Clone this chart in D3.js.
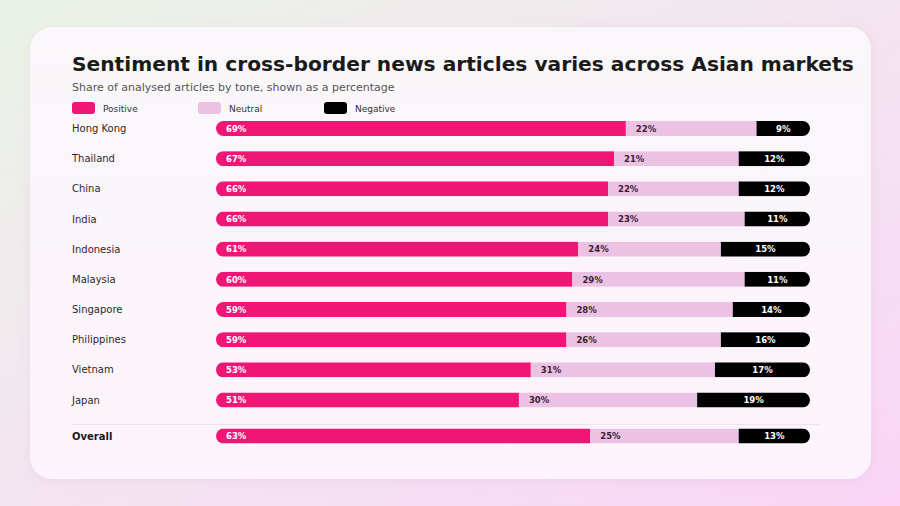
<!DOCTYPE html>
<html>
<head>
<meta charset="utf-8">
<style>
  html, body { margin: 0; padding: 0; }
  body { width: 900px; height: 506px; overflow: hidden; font-family: "DejaVu Sans", sans-serif; }
</style>
</head>
<body>
<svg width="900" height="506"></svg>
<script src="https://d3js.org/d3.v7.min.js"></script>
<script>
  const markets = ["Hong Kong", "Thailand", "China", "India", "Indonesia", "Malaysia",
    "Singapore", "Philippines", "Vietnam", "Japan", "Overall"];
  const positive = [69, 67, 66, 66, 61, 60, 59, 59, 53, 51, 63];
  const neutral = [22, 21, 22, 23, 24, 29, 28, 26, 31, 30, 25];
  const negative = [9, 12, 12, 11, 15, 11, 14, 16, 17, 19, 13];
  const tones = ["Positive", "Neutral", "Negative"];
  const toneColors = ["#ef1675", "#ebc2e3", "#000000"];

  const svg = d3.select("svg");
  const defs = svg.append("defs");

  // page background
  const bg = defs.append("linearGradient").attr("id", "bg")
    .attr("x1", "0").attr("y1", "0").attr("x2", "1").attr("y2", "1");
  bg.append("stop").attr("offset", "0%").attr("stop-color", "#eaf3e8");
  bg.append("stop").attr("offset", "50%").attr("stop-color", "#f3e5f0");
  bg.append("stop").attr("offset", "100%").attr("stop-color", "#fad4f7");
  svg.append("rect").attr("width", 900).attr("height", 506).attr("fill", "url(#bg)");

  const shadow = defs.append("filter").attr("id", "shadow")
    .attr("x", "-10%").attr("y", "-10%").attr("width", "120%").attr("height", "120%");
  shadow.append("feDropShadow").attr("dx", 0).attr("dy", 2).attr("stdDeviation", 6)
    .attr("flood-color", "#b080a0").attr("flood-opacity", 0.12);

  const cardG = defs.append("linearGradient").attr("id", "card")
    .attr("x1", "0").attr("y1", "0").attr("x2", "0").attr("y2", "1");
  cardG.append("stop").attr("offset", "0%").attr("stop-color", "#f9f7f9");
  cardG.append("stop").attr("offset", "100%").attr("stop-color", "#fdf3fc");

  svg.append("rect")
    .attr("x", 30).attr("y", 27).attr("width", 841).attr("height", 452)
    .attr("rx", 22).attr("fill", "url(#card)").attr("filter", "url(#shadow)");

  // titles
  svg.append("text").attr("x", 72).attr("y", 71)
    .attr("font-size", 20.2).attr("font-weight", "bold").attr("fill", "#1a1a1a")
    .text("Sentiment in cross-border news articles varies across Asian markets");
  svg.append("text").attr("x", 72).attr("y", 91)
    .attr("font-size", 11).attr("fill", "#555")
    .text("Share of analysed articles by tone, shown as a percentage");

  // legend
  const legend = svg.append("g").selectAll("g").data(tones).join("g")
    .attr("transform", (d, i) => `translate(${72 + i * 126},102)`);
  legend.append("rect").attr("width", 23).attr("height", 12).attr("rx", 3)
    .attr("fill", (d, i) => toneColors[i]);
  legend.append("text").attr("x", 31).attr("y", 9.5)
    .attr("font-size", 9).attr("fill", "#333").text((d) => d);

  // scales
  const x = d3.scaleLinear().domain([0, 100]).range([216, 810]);
  const rowY = d3.scalePoint().domain(markets.slice(0, 10)).range([128.5, 400]);
  const yOf = (m) => (m === "Overall" ? 436 : rowY(m));
  const barH = 15;

  const rows = markets.map((m, i) => ({
    market: m,
    segs: [
      { tone: 0, v: positive[i], x0: 0, x1: positive[i] },
      { tone: 1, v: neutral[i], x0: positive[i], x1: positive[i] + neutral[i] },
      { tone: 2, v: negative[i], x0: positive[i] + neutral[i], x1: 100 },
    ],
  }));

  // separator above overall
  svg.append("line").attr("x1", 72).attr("x2", 820).attr("y1", 424.5).attr("y2", 424.5)
    .attr("stroke", "#ece6ea").attr("stroke-width", 1);

  const rowG = svg.append("g").selectAll("g").data(rows).join("g")
    .attr("transform", (d) => `translate(0,${yOf(d.market)})`);

  rowG.append("text").attr("x", 72).attr("y", 3.5)
    .attr("font-size", 10)
    .attr("font-weight", (d) => (d.market === "Overall" ? "bold" : "normal"))
    .attr("fill", (d) => (d.market === "Overall" ? "#1a1a1a" : "#2a2a2a"))
    .text((d) => d.market);

  rowG.each(function (d, i) {
    defs.append("clipPath").attr("id", "clip" + i)
      .append("rect").attr("x", x(0)).attr("y", yOf(d.market) - barH / 2)
      .attr("width", x(100) - x(0)).attr("height", barH).attr("rx", barH / 2);
  });

  const bars = rowG.append("g").attr("clip-path", (d, i) => `url(#clip${i})`)
    .attr("transform", (d) => `translate(0,${-yOf(d.market)})`);
  bars.selectAll("rect").data((d) => d.segs.map((s) => ({ ...s, y: yOf(d.market) }))).join("rect")
    .attr("x", (s) => x(s.x0)).attr("y", (s) => s.y - barH / 2)
    .attr("width", (s) => x(s.x1) - x(s.x0)).attr("height", barH)
    .attr("fill", (s) => toneColors[s.tone]);

  rowG.selectAll("text.val").data((d) => d.segs).join("text")
    .attr("class", "val")
    .attr("x", (s) => (s.tone === 2 ? (x(s.x0) + x(s.x1)) / 2 : x(s.x0) + 10))
    .attr("y", 3.3)
    .attr("text-anchor", (s) => (s.tone === 2 ? "middle" : "start"))
    .attr("font-size", 8.5).attr("font-weight", "bold")
    .attr("fill", (s) => (s.tone === 1 ? "#3b1d33" : "#ffffff"))
    .text((s) => s.v + "%");
</script>
</body>
</html>
